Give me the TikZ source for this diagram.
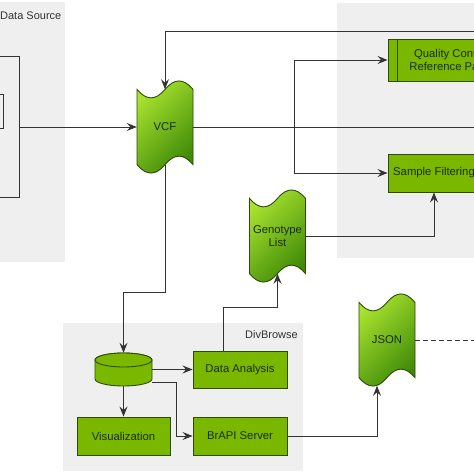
\documentclass[tikz,border=0pt]{standalone}
\usepackage{fontspec}
\setmainfont{Liberation Sans}
\usetikzlibrary{arrows.meta,calc}
\definecolor{panelgray}{HTML}{EFEFEF}
\definecolor{linegray}{HTML}{333333}
\definecolor{boxgreen}{HTML}{7AB800}
\definecolor{boxedge}{HTML}{2E4A06}
\definecolor{tapelight}{HTML}{A8E22E}
\definecolor{tapedark}{HTML}{3F8A08}
\definecolor{txtdark}{HTML}{1C2A05}
\tikzset{
  lbl/.style={font=\fontsize{11.3}{13.5}\selectfont, text=txtdark},
  procbox/.style={lbl, draw=boxedge, fill=boxgreen, line width=0.9pt, inner sep=0pt, align=center},
  tapelbl/.style={lbl, inner sep=0pt, minimum width=56pt, minimum height=75.2pt, align=center},
  tapefill/.style={draw=boxedge, line width=0.9pt, top color=tapelight, bottom color=tapedark, shading angle=45},
  cyl/.style={draw=boxedge, fill=boxgreen, line width=0.9pt},
  conn/.style={draw=linegray, line width=1pt},
  arr/.style={conn, -{Stealth[length=10pt,width=8pt,inset=3.5pt]}},
  panel/.style={fill=panelgray},
  panellbl/.style={font=\fontsize{11}{13.5}\selectfont, text=linegray, inner sep=0pt},
}
\newcommand\tapenode[4]{%
  \shadedraw[tapefill, shift={(#2-28,#3-47)}]
    (0,9.4) .. controls (9.33,20.67) and (18.67,20.67) .. (28,9.4)
    .. controls (37.33,-1.87) and (46.67,-1.87) .. (56,9.4)
    -- (56,84.6) .. controls (46.67,73.33) and (37.33,73.33) .. (28,84.6)
    .. controls (18.67,95.87) and (9.33,95.87) .. (0,84.6) -- cycle;
  \node[tapelbl] (#1) at (#2,#3) {#4};}
\begin{document}
\begin{tikzpicture}[x=1pt,y=-1pt]
\useasboundingbox (0,0) rectangle (474,474);
% panels
\fill[panel] (-10,2) rectangle (65,262);
\fill[panel] (337,3) rectangle (490,258);
\fill[panel] (63,323) rectangle (303,471);
\node[panellbl, anchor=east] (dslbl) at (61.5,16) {Data Source};
\node[panellbl, anchor=east] (divlbl) at (298,335) {DivBrowse};
% data source boxes
\node[conn, minimum width=49pt, minimum height=141pt, inner sep=0pt] (dsbox) at (-5,127) {};
\node[conn, minimum width=30pt, minimum height=34pt, inner sep=0pt] (dsinner) at (-12,111) {};
% tape nodes
\tapenode{vcf}{165}{127}{VCF}
\tapenode{gl}{277.5}{236}{Genotype\\List}
\tapenode{json}{387}{340}{JSON}
% process boxes
\node[procbox, minimum width=127pt, minimum height=42pt] (qc) at (451.5,60) {Quality Control\\Reference Panel};
\draw[draw=boxedge, line width=0.9pt] ([xshift=10pt]qc.north west) -- ([xshift=10pt]qc.south west);
\node[procbox, minimum width=92pt, minimum height=38pt] (sf) at (434,173) {Sample Filtering};
\node[procbox, minimum width=94pt, minimum height=37pt] (da) at (240,369.5) {Data Analysis};
\node[procbox, minimum width=94pt, minimum height=38pt] (brapi) at (240,436) {BrAPI Server};
\node[procbox, minimum width=93pt, minimum height=38pt] (vis) at (123.5,436) {Visualization};
% database cylinder
\filldraw[cyl] (95,360) -- (95,379) arc[start angle=180,end angle=360,x radius=28.5pt,y radius=7pt]
  -- (152,360) arc[start angle=0,end angle=180,x radius=28.5pt,y radius=7pt] -- cycle;
\filldraw[cyl] (123.5,360) ellipse[x radius=28.5pt,y radius=7pt];
\node[minimum width=57pt, minimum height=33pt, inner sep=0pt] (db) at (123.5,369.5) {};
% coordinates for free ends
\coordinate (rin) at (490,31);
\coordinate (rout) at (490,127);
\coordinate (br) at (294,127);
\coordinate (jout) at (490,340);
% connectors
\draw[arr] (dsbox.east) -- (vcf.west);
\draw[arr] (rin) -| (vcf.north);
\draw[conn] (vcf.east) -- (rout);
\draw[arr] (br) |- (qc.west);
\draw[arr] (br) |- (sf.west);
\draw[arr] (vcf.south) |- ($(db.north)+(0,-60)$) -- (db.north);
\draw[arr] (db.east) -- (da.west);
\draw[arr] (db.south) -- (vis.north);
\draw[arr] ([yshift=4pt]db.south east) -| ([xshift=-16pt]brapi.west) -- (brapi.west);
\draw[arr] ([xshift=-17pt]da.north) |- ($(gl.south)+(0,33.4)$) -- (gl.south);
\draw[arr] (gl.east) -| (sf.south);
\draw[arr] (brapi.east) -| ([xshift=-10pt,yshift=-8pt]json.south);
\draw[conn, dash pattern=on 5pt off 3pt] (json.east) -- (jout);
\end{tikzpicture}
\end{document}
